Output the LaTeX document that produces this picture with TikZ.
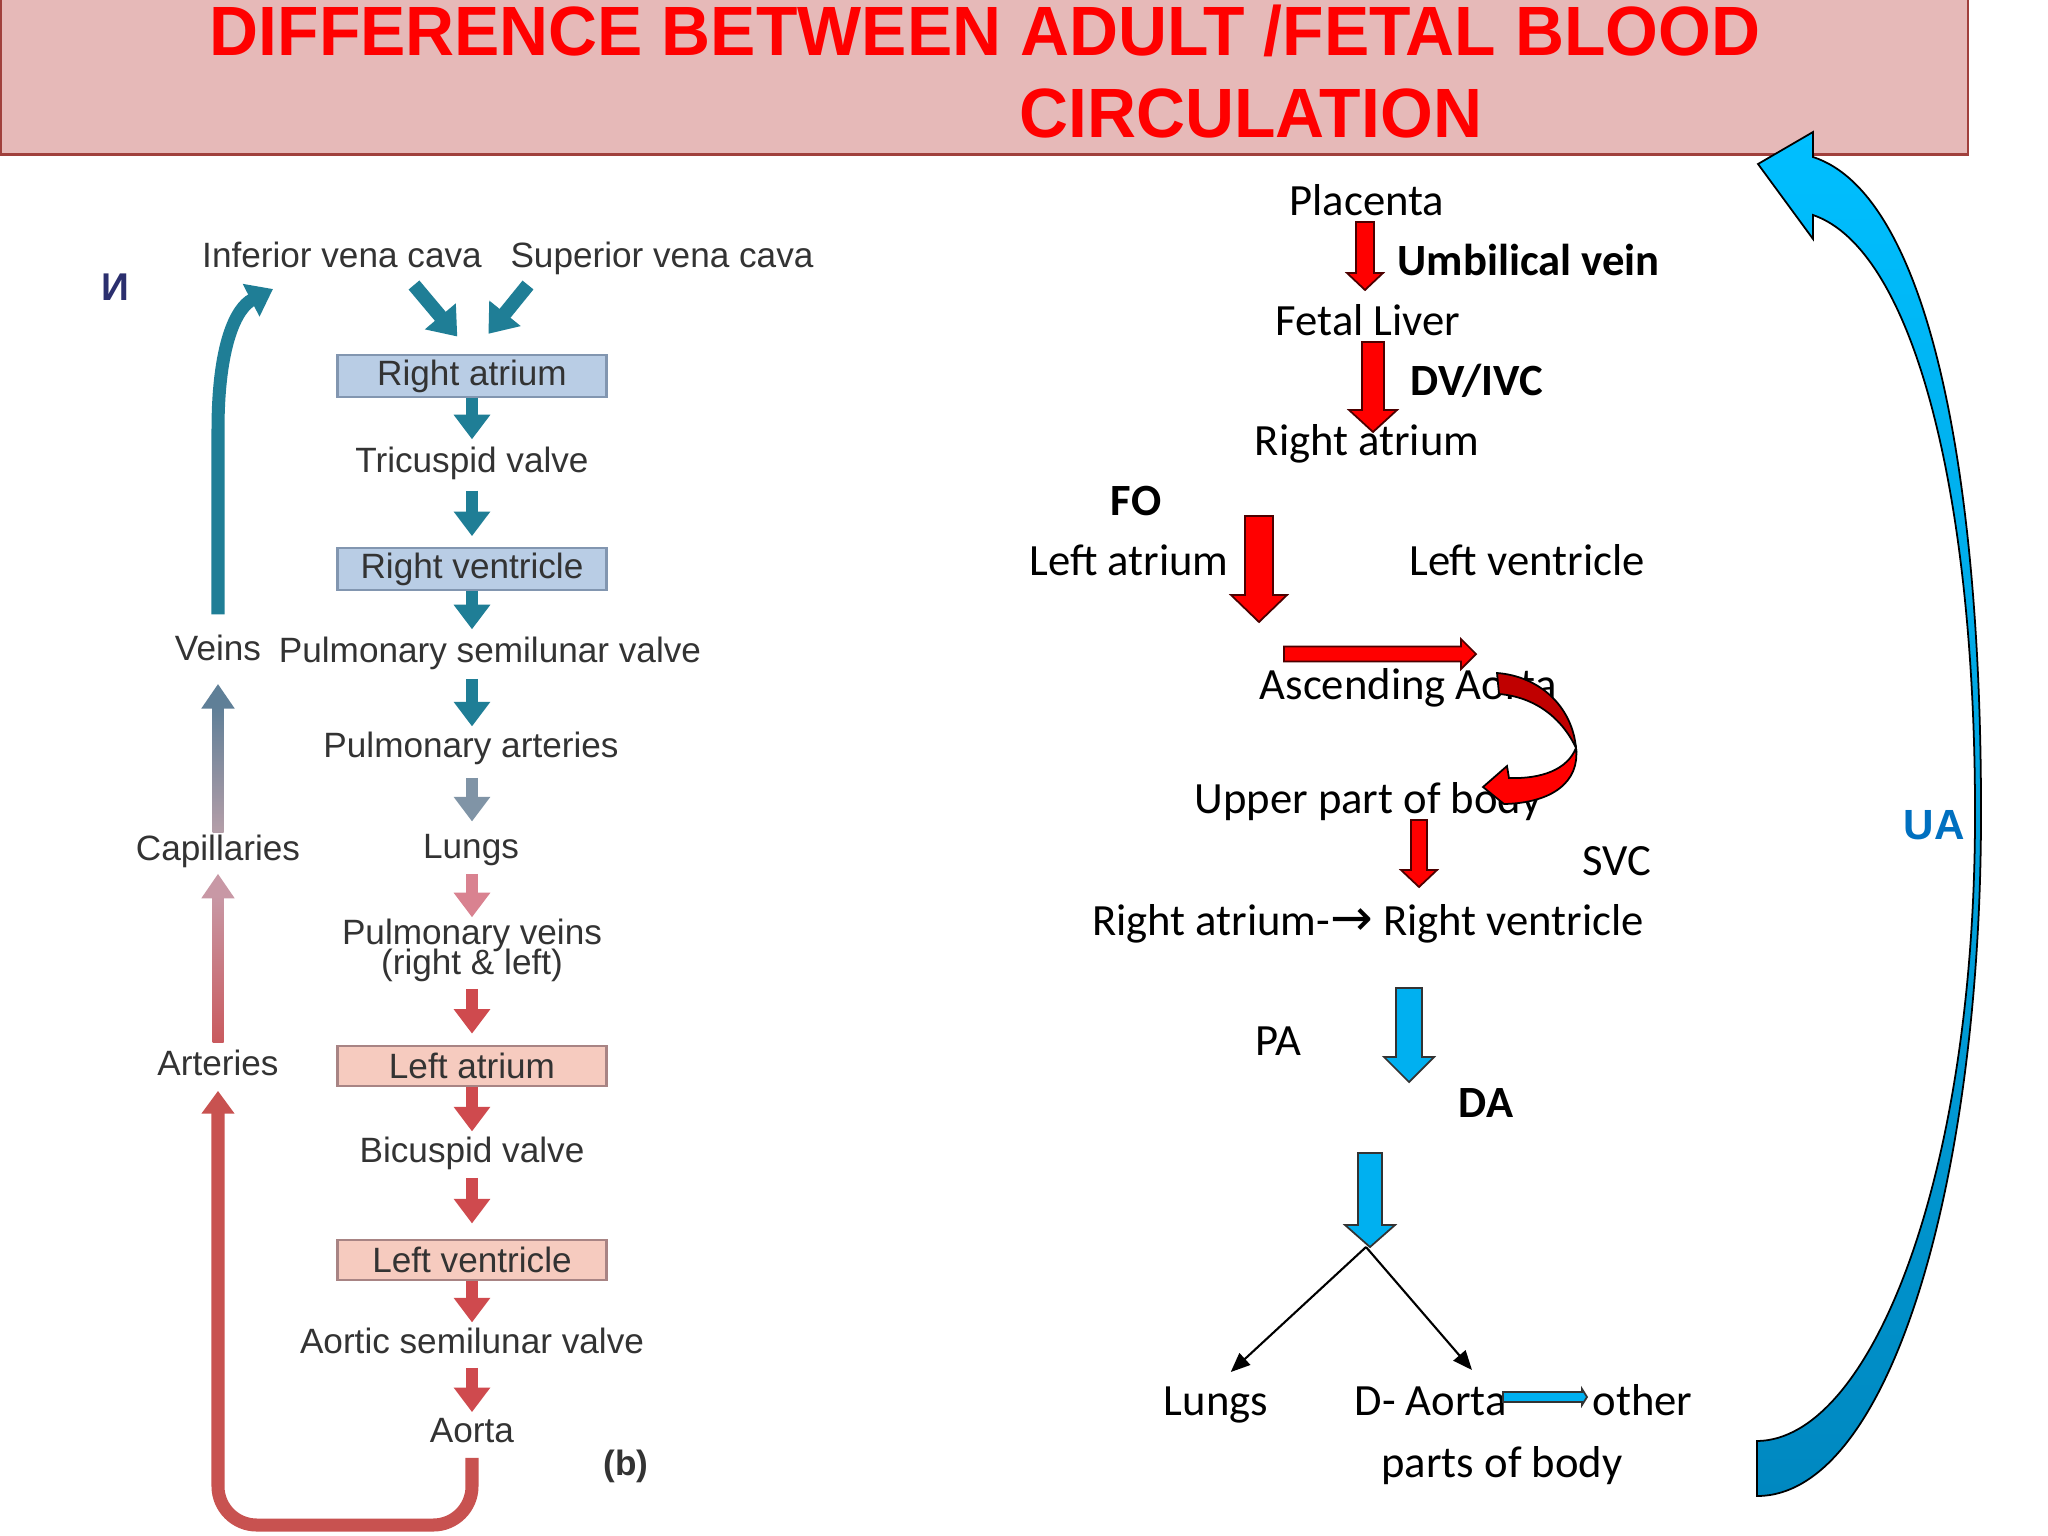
\documentclass[tikz,border=0pt]{standalone}
\usepackage{fontspec}
\usepackage{graphicx}
\setmainfont{Carlito}
\newfontfamily\arialf{Liberation Sans}
\newfontfamily\symf{DejaVu Sans}
\usetikzlibrary{arrows.meta}
\definecolor{titlefill}{HTML}{E6B9B8}
\definecolor{titleborder}{HTML}{A0403C}
\definecolor{teala}{HTML}{1F7E96}
\definecolor{graya}{HTML}{8094A6}
\definecolor{pinka}{HTML}{D98290}
\definecolor{reda}{HTML}{CF4A4E}
\definecolor{loopc}{HTML}{C85250}
\definecolor{vtop}{HTML}{5F7F97}
\definecolor{vbot}{HTML}{B49EA8}
\definecolor{ctop}{HTML}{C898A5}
\definecolor{cbot}{HTML}{C95A5E}
\definecolor{boxblue}{HTML}{B9CDE5}
\definecolor{boxblueb}{HTML}{8296B0}
\definecolor{boxpink}{HTML}{F6CBBF}
\definecolor{boxpinkb}{HTML}{A88484}
\definecolor{ltext}{HTML}{333333}
\definecolor{navya}{HTML}{2B2F6E}
\definecolor{fred}{HTML}{FF0000}
\definecolor{fdark}{HTML}{C00000}
\definecolor{fblue}{HTML}{00B0F0}
\definecolor{uablue}{HTML}{0070C0}
\definecolor{uatop}{HTML}{00BFFF}
\definecolor{uabot}{HTML}{0088C0}
\newcommand{\vblock}[7]{\filldraw[#7] ({#1-#4},#2) -- ({#1+#4},#2) -- ({#1+#4},{#3-#6}) -- ({#1+#5},{#3-#6}) -- (#1,#3) -- ({#1-#5},{#3-#6}) -- ({#1-#4},{#3-#6}) -- cycle;}
\newcommand{\hblock}[7]{\filldraw[#7] (#1,{#3-#4}) -- ({#2-#6},{#3-#4}) -- ({#2-#6},{#3-#5}) -- (#2,#3) -- ({#2-#6},{#3+#5}) -- ({#2-#6},{#3+#4}) -- (#1,{#3+#4}) -- cycle;}
\begin{document}
\begin{tikzpicture}[x=0.01cm,y=-0.01cm,
  ftxt/.style={font=\fontsize{12.7}{15}\selectfont, inner sep=0pt, anchor=base, text=black},
  fbold/.style={font=\fontsize{12.7}{15}\selectfont\bfseries, inner sep=0pt, anchor=base, text=black},
  ltxt/.style={font=\arialf\fontsize{10}{12}\selectfont, text=ltext, inner sep=0pt, anchor=base, text height=7.4pt, text depth=2pt},
  bbox/.style={draw=boxblueb, fill=boxblue, line width=0.6pt, minimum width=76.5pt, minimum height=11.9pt, inner sep=0pt, font=\arialf\fontsize{10}{12}\selectfont, text=ltext},
  pbox/.style={draw=boxpinkb, fill=boxpink, line width=0.6pt, minimum width=76.5pt, minimum height=11.6pt, inner sep=0pt, font=\arialf\fontsize{10}{12}\selectfont, text=ltext},
  tarr/.style={line width=3.4pt, draw=teala, -{Triangle[width=10pt,length=7pt]}},
  redarr/.style={fill=fred, draw=black!70!red, line width=0.5pt},
  bluearr/.style={fill=fblue, draw=black!80, line width=0.5pt},
  thinarr/.style={line width=0.6pt, draw=black, -{Triangle[width=4.5pt,length=5.5pt]}}]
\useasboundingbox (0,0) rectangle (2048,1536);
\fill[white] (0,0) rectangle (2048,1536);
\clip (0,0) rectangle (2048,1536);

% title
\node[draw=titleborder, fill=titlefill, line width=0.7pt, anchor=north west, minimum width=559.3pt, minimum height=44.4pt, inner sep=0pt] (title) at (0,-3) {};
\node[anchor=base west, inner sep=0pt, text=fred, font=\arialf\bfseries\fontsize{19.85}{22}\selectfont] (t1) at (209,55) {\scalebox{0.972}[1]{DIFFERENCE BETWEEN ADULT /FETAL BLOOD}};
\node[anchor=base west, inner sep=0pt, text=fred, font=\arialf\bfseries\fontsize{19.85}{22}\selectfont] (t2) at (1019,137) {\scalebox{0.972}[1]{CIRCULATION}};

% ---------- left (adult) diagram ----------
\node[ltxt] (ivc) at (342,267) {Inferior vena cava};
\node[ltxt] (svc) at (662,267) {Superior vena cava};
\node[ltxt, font=\arialf\bfseries\fontsize{11}{12}\selectfont, text=navya] (cyr) at (115,300) {И};
\node[bbox] (ra) at (472,376) {Right atrium};
\node[ltxt] (tv) at (472,472) {Tricuspid valve};
\node[bbox] (rv) at (472,569) {Right ventricle};
\node[ltxt] (veins) at (218,660) {Veins};
\node[ltxt] (psv) at (490,662) {Pulmonary semilunar valve};
\node[ltxt] (pa) at (471,757) {Pulmonary arteries};
\node[ltxt] (lungs) at (471,858) {Lungs};
\node[ltxt] (cap) at (218,860) {Capillaries};
\node[ltxt, text depth=1pt] (pv1) at (472,944) {Pulmonary veins};
\node[ltxt, text height=5.5pt] (pv2) at (472,974) {(right \& left)};
\node[pbox] (la) at (472,1066) {Left atrium};
\node[ltxt] (art) at (218,1075) {Arteries};
\node[ltxt] (bv) at (472,1162) {Bicuspid valve};
\node[pbox] (lv) at (472,1260) {Left ventricle};
\node[ltxt] (asv) at (472,1353) {Aortic semilunar valve};
\node[ltxt] (aorta) at (472,1442) {Aorta};
\node[ltxt, font=\arialf\bfseries\fontsize{10}{12}\selectfont] (blab) at (626,1475) {(b)};

\coordinate (ivcfoot) at (414,285);
\coordinate (svcfoot) at (528,285);
\draw[tarr, line width=4pt, -{Triangle[width=11pt,length=7.5pt]}, shorten >=6.5pt] (ivcfoot) -- (ra.north);
\draw[tarr, line width=4pt, -{Triangle[width=11pt,length=7.5pt]}, shorten >=7.4pt] (svcfoot) -- (ra.north);

\draw[tarr, shorten >=1.7pt] (ra.south) -- (ra.south |- tv.north);
\draw[tarr, shorten <=3.1pt, shorten >=3.1pt] (tv.south) -- (tv.south |- rv.north);
\draw[tarr, shorten >=1.7pt] (rv.south) -- (rv.south |- psv.north);
\draw[tarr, shorten <=2.6pt, shorten >=1.1pt] (rv.south |- psv.south) -- (pa.north -| rv.south);
\draw[tarr, draw=graya, shorten <=3.7pt, shorten >=2.8pt] (pa.south -| rv.south) -- (lungs.north -| rv.south);
\draw[tarr, draw=pinka, shorten <=2.3pt] (lungs.south -| rv.south) -- (pv1.north -| rv.south);
\draw[tarr, draw=reda, shorten <=2pt, shorten >=3.1pt] (pv2.south) -- (pv2.south |- la.north);
\draw[tarr, draw=reda, shorten >=1.1pt] (la.south) -- (la.south |- bv.north);
\draw[tarr, draw=reda, shorten <=2.3pt, shorten >=4.3pt] (bv.south) -- (bv.south |- lv.north);
\draw[tarr, draw=reda, shorten >=1.1pt] (lv.south) -- (lv.south |- asv.north);
\draw[tarr, draw=reda, shorten <=2pt, shorten >=0.9pt] (asv.south) -- (asv.south |- aorta.north);

% left column
\draw[tarr, draw=vtop, line width=3.1pt, -{Triangle[width=9pt,length=7pt]}, shorten >=4.6pt] (cap.north) -- (cap.north |- veins.south);
\shade[top color=vtop, bottom color=vbot] (212.5,706) rectangle (223.5,832);
\draw[tarr, draw=ctop, line width=3.1pt, -{Triangle[width=9pt,length=7pt]}, shorten <=2pt, shorten >=1.7pt] (art.north) -- (art.north |- cap.south);
\shade[top color=ctop, bottom color=cbot] (212.5,896) rectangle (223.5,1042);

\coordinate (loopbot) at (0,1525);
\draw[line width=3.7pt, draw=loopc, rounded corners=11pt, shorten <=2.3pt, shorten >=2.3pt, -{Triangle[width=9pt,length=6.5pt]}] (aorta.south) -- (aorta.south |- loopbot) -- (art.south |- loopbot) -- (art.south);

\coordinate (ivctip) at (273,289);
\draw[tarr, line width=3.7pt, shorten <=5.4pt] (veins.north) -- (218,430) .. controls (218,345) and (236,308) .. (ivctip);

% ---------- right (fetal) diagram ----------
\node[ftxt] (placenta) at (1367,215) {Placenta};
\node[fbold, anchor=base west] (umb) at (1397,275) {Umbilical vein};
\node[ftxt] (liver) at (1368,335) {Fetal Liver};
\node[fbold, anchor=base west] (dv) at (1410,395) {DV/IVC};
\node[ftxt] (fra) at (1367,455) {Right atrium};
\node[fbold] (fo) at (1136,515) {FO};
\node[ftxt] (fla) at (1129,575) {Left atrium};
\node[ftxt] (flv) at (1527,575) {Left ventricle};
\node[ftxt, anchor=base west] (asc) at (1259,699) {Ascending Aorta};
\node[ftxt] (upper) at (1368,813) {Upper part of body};
\node[ftxt] (svc2) at (1617,875) {SVC};
\node[ftxt] (rarv) at (1368,935) {Right atrium-{\symf\fontsize{14.5}{15}\selectfont →} Right ventricle};
\node[ftxt] (pa2) at (1278,1055) {PA};
\node[fbold] (da) at (1486,1117) {DA};
\node[ftxt] (lungs2) at (1216,1415) {Lungs};
\node[ftxt, anchor=base west] (daorta) at (1354,1415) {D- Aorta};
\node[ftxt, anchor=base west] (other) at (1592,1415) {other};
\node[ftxt] (parts) at (1502,1477) {parts of body};
\node[anchor=base, inner sep=0pt, text=uablue, font=\arialf\bfseries\fontsize{12}{14}\selectfont] (ua) at (1934,839) {UA};

% block arrows
\vblock{1365}{222}{290}{9}{18}{17}{redarr}
\vblock{1373}{342}{432}{11}{24}{22}{redarr}
\vblock{1259}{516}{622}{14}{28}{27}{redarr}
\hblock{1284}{1476}{654}{7.5}{15}{15}{redarr}
\vblock{1419}{820}{887}{8}{18}{17}{redarr}
\vblock{1409}{988}{1082}{13}{25}{25}{bluearr}
\vblock{1370}{1153}{1247}{12}{25}{22}{bluearr}
\hblock{1503}{1587}{1397}{5}{8}{5}{bluearr}

% curved red arrow (ascending aorta -> upper body)
\filldraw[fill=fdark, draw=black, line width=0.5pt] (1497,673) .. controls (1538,676) and (1572,705) .. (1576,748) .. controls (1562,718) and (1535,697) .. (1499,694) -- cycle;
\filldraw[fill=fred, draw=black, line width=0.5pt] (1576,748) .. controls (1580,782) and (1552,803) .. (1504,804) -- (1483,787) -- (1507,766) -- (1509,778) .. controls (1541,779) and (1567,770) .. (1576,748) -- cycle;

% split arrows
\coordinate (split) at (1366,1247);
\coordinate (dtip) at (1472,1370);
\draw[thinarr, shorten >=5.7pt] (split) -- (lungs2.north);
\draw[thinarr] (split) -- (dtip);

% big UA arrow
\shadedraw[top color=uatop, bottom color=uabot, draw=black, line width=0.5pt]
  (1758,164) -- (1813,132) -- (1813,157) .. controls (1930,195) and (1982,480) .. (1981,820)
  .. controls (1980,1180) and (1890,1496) .. (1757,1496) -- (1757,1441)
  .. controls (1870,1440) and (1974,1180) .. (1975,820)
  .. controls (1976,500) and (1915,250) .. (1813,215) -- (1813,239) -- cycle;
\end{tikzpicture}
\end{document}
